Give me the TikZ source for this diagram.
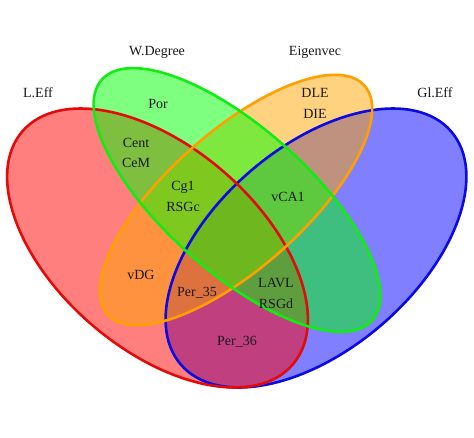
\documentclass[tikz,border=0pt]{standalone}
\usepackage{fontspec}
\setmainfont{Liberation Serif}
\usetikzlibrary{positioning}
\definecolor{leff}{RGB}{255,0,0}
\definecolor{wdeg}{RGB}{0,255,0}
\definecolor{eigv}{RGB}{255,165,0}
\definecolor{gleff}{RGB}{0,0,255}
\definecolor{leffline}{RGB}{228,10,10}
\definecolor{wdegline}{RGB}{20,235,20}
\definecolor{eigvline}{RGB}{255,160,0}
\definecolor{gleffline}{RGB}{10,10,225}
\tikzset{
  setfill/.style={fill=#1,fill opacity=0.5},
  setline/.style={draw=#1,line width=2.6pt},
  lbl/.style={font=\fontsize{14}{20.5}\selectfont,align=center,inner sep=1pt,text=black!90}}
\begin{document}
\begin{tikzpicture}[x=1pt,y=1pt]
\useasboundingbox (0,0) rectangle (474,437);
% fills: Gl.Eff, L.Eff, Eigenvec, W.Degree
\foreach \cx/\cy/\ang/\ra/\rb/\col in {316/189/40.8/178.5/101/gleff,157.5/189/-40.8/178.5/101/leff,236/237/41.7/172/68/eigv,237/237/-41.7/181/72/wdeg}
  \fill[setfill=\col,rotate around={\ang:(\cx,\cy)}] (\cx,\cy) ellipse [x radius=\ra pt,y radius=\rb pt];
% outlines
\foreach \cx/\cy/\ang/\ra/\rb/\col in {316/189/40.8/178.5/101/gleffline,157.5/189/-40.8/178.5/101/leffline,236/237/41.7/172/68/eigvline,237/237/-41.7/181/72/wdegline}
  \draw[setline=\col,rotate around={\ang:(\cx,\cy)}] (\cx,\cy) ellipse [x radius=\ra pt,y radius=\rb pt];
% set names
\node[lbl] (leff) at (38,344) {L.Eff};
\node[lbl] (wdeg) at (157,385) {W.Degree};
\node[lbl] (eigv) at (315,385) {Eigenvec};
\node[lbl] (gleff) at (435,344) {Gl.Eff};
% regions
\node[lbl] (por) at (158,333) {Por};
\node[lbl] (dle) at (315,333.5) {DLE\\DIE};
\node[lbl] (cent) at (136,284) {Cent\\CeM};
\node[lbl] (cg) at (183,240.5) {Cg1\\RSGc};
\node[lbl] (vca) at (288,240) {vCA1};
\node[lbl] (vdg) at (141,162) {vDG};
\node[lbl] (per35) at (197,144) {Per\_35};
\node[lbl] (lavl) at (276,143.5) {LAVL\\RSGd};
\node[lbl] (per36) at (237,95) {Per\_36};
\end{tikzpicture}
\end{document}
